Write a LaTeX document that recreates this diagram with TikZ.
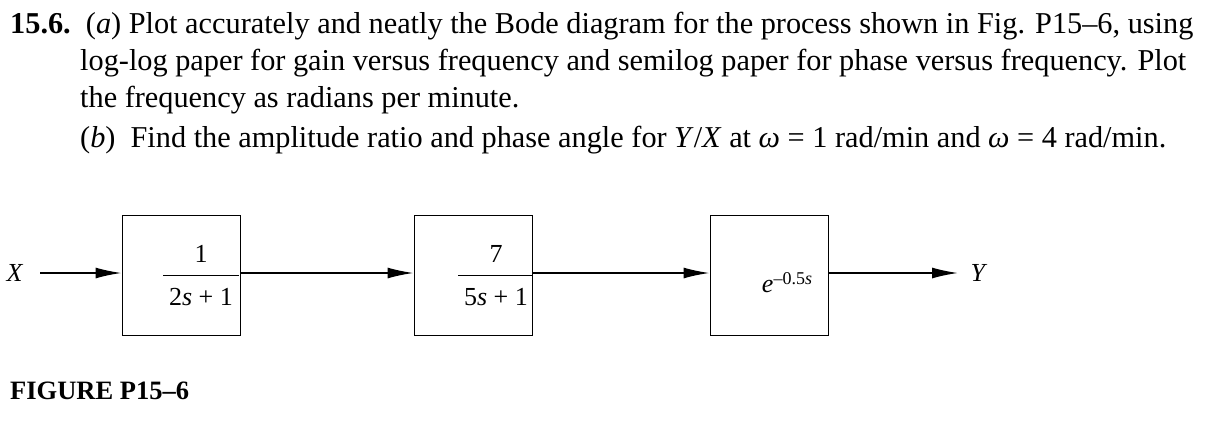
\documentclass[tikz,border=0pt]{standalone}
\usepackage{fontspec}
\setmainfont{Liberation Serif}
\usetikzlibrary{arrows.meta}
\begin{document}
\begin{tikzpicture}[x=1pt,y=-1pt,
  txt/.style={anchor=base west,inner sep=0pt,font=\fontsize{30.3}{34}\selectfont},
  blk/.style={draw,line width=1pt,minimum width=118pt,minimum height=120pt,inner sep=0pt},
  fr/.style={inner sep=0pt,font=\fontsize{26}{28}\selectfont},
  sig/.style={line width=1.6pt,-{Latex[length=26pt,width=11pt]}}]
\useasboundingbox (0,0) rectangle (1224,424);
\node[txt] (l1) at (10,33) {\textbf{15.6.}\ \ (\textit{a}) Plot accurately and neatly the Bode diagram for the process shown in Fig. P15--6, using};
\node[txt] (l2) at (80,70) {log-log paper for gain versus frequency and semilog paper for phase versus frequency. Plot};
\node[txt] (l3) at (80,107) {the frequency as radians per minute.};
\node[txt] (l4) at (80,147) {(\textit{b})\ \ Find the amplitude ratio and phase angle for \textit{Y}/\textit{X} at \textit{ω} = 1 rad/min and \textit{ω} = 4 rad/min.};
\node[blk] (b1) at (181,275) {};
\node[blk] (b2) at (473,275) {};
\node[blk] (b3) at (769,275) {};
\node[fr] (n1) at (201,254) {1};
\node[fr] (d1) at (201,297) {2\textit{s} + 1};
\draw[line width=0.8pt] (163,275) -- (239,275);
\node[fr] (n2) at (496,254) {7};
\node[fr] (d2) at (496,297) {5\textit{s} + 1};
\draw[line width=0.8pt] (458,275) -- (532,275);
\node[fr] (e) at (787,283) {\textit{e}\raisebox{8pt}{\fontsize{18}{20}\selectfont –0.5\textit{s}}};
\node[fr] (X) at (15,273) {\textit{X}};
\node[fr] (Y) at (979,273) {\textit{Y}};
\coordinate (xs) at (40,273);
\coordinate (ye) at (958,273);
\draw[sig] (xs) -- (b1.west|-xs);
\draw[sig] (b1.east|-xs) -- (b2.west|-xs);
\draw[sig] (b2.east|-xs) -- (b3.west|-xs);
\draw[sig] (b3.east|-xs) -- (ye);
\node[txt,font=\bfseries\fontsize{26.5}{28}\selectfont] (cap) at (10,399) {FIGURE P15--6};
\end{tikzpicture}
\end{document}
